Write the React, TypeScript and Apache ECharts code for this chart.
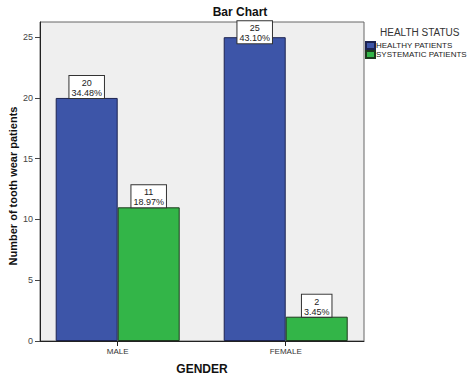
import React, { useEffect, useRef } from "react";
import * as echarts from "echarts";

const categories = ["MALE", "FEMALE"];
const healthyCounts = [20, 25];
const healthyPercents = ["34.48%", "43.10%"];
const systematicCounts = [11, 2];
const systematicPercents = ["18.97%", "3.45%"];
const seriesNames = ["HEALTHY PATIENTS", "SYSTEMATIC PATIENTS"];

export default function App() {
  const ref = useRef<HTMLDivElement>(null);
  useEffect(() => {
    if (!ref.current) return;
    const chart = echarts.init(ref.current, null, { renderer: "svg" });
    const font = "Liberation Sans, Arial, sans-serif";
    const yMax = 26.25;
    const labelStyle = (pcts: string[], counts: number[]) => ({
      show: true,
      position: "top" as const,
      distance: 0,
      formatter: (p: any) => `${counts[p.dataIndex]}\n${pcts[p.dataIndex]}`,
      backgroundColor: "#ffffff",
      borderColor: "#333333",
      borderWidth: 1,
      padding: [2, 2, 0, 2],
      fontSize: 9,
      lineHeight: 10,
      color: "#222",
      fontFamily: font,
      align: "center" as const,
    });
    // keep label boxes inside the plot area (as the original does for the tallest bar)
    const makeData = (counts: number[]) =>
      counts.map((v, i) => ({
        value: [i, v],
        label: v > yMax - 2 ? { offset: [0, 6] } : undefined,
      }));
    chart.setOption({
      animation: false,
      textStyle: { fontFamily: font },
      graphic: [
        {
          type: "text",
          x: 240,
          y: 12,
          style: {
            text: "Bar Chart",
            align: "center",
            verticalAlign: "middle",
            fontSize: 12,
            fontWeight: "bold",
            fill: "#111",
            fontFamily: font,
          },
        },
        {
          type: "text",
          x: 13,
          y: 186,
          rotation: Math.PI / 2,
          style: {
            text: "Number of tooth wear patients",
            align: "center",
            verticalAlign: "middle",
            fontSize: 11,
            fontWeight: "bold",
            fill: "#111",
            fontFamily: font,
          },
        },
        {
          type: "text",
          x: 380,
          y: 32,
          style: {
            text: "HEALTH STATUS",
            align: "left",
            verticalAlign: "middle",
            fontSize: 10,
            fill: "#333",
            fontFamily: font,
          },
        },
      ],
      legend: {
        orient: "vertical",
        left: 365,
        top: 41,
        padding: 0,
        itemWidth: 9,
        itemHeight: 7,
        itemGap: 0,
        icon: "rect",
        textStyle: { fontSize: 8, lineHeight: 9, color: "#222", padding: [0, 0, 0, -4], fontFamily: font },
        data: seriesNames,
      },
      grid: {
        left: 40,
        right: 110,
        top: 22,
        bottom: 40,
        outerBoundsMode: "none",
        containLabel: false,
        show: true,
        backgroundColor: "#efefef",
        borderColor: "#666",
        borderWidth: 1,
      },
      xAxis: {
        type: "value",
        min: -0.4625,
        max: 1.466,
        name: "GENDER",
        nameLocation: "middle",
        nameGap: 22,
        nameTextStyle: { fontSize: 12, fontWeight: "bold", color: "#111", fontFamily: font },
        axisLine: { show: true, lineStyle: { color: "#222", width: 1 } },
        axisTick: { show: true, customValues: [0, 1], length: 5, lineStyle: { color: "#222" } },
        axisLabel: {
          customValues: [0, 1],
          formatter: (v: number) => categories[Math.round(v)] ?? "",
          fontSize: 8,
          color: "#333",
          margin: 6,
          fontFamily: font,
        },
        splitLine: { show: false },
      },
      yAxis: {
        type: "value",
        min: 0,
        max: yMax,
        interval: 5,
        axisLine: { show: true, onZero: false, lineStyle: { color: "#222", width: 1 } },
        axisTick: { show: true, length: 5, lineStyle: { color: "#444" } },
        axisLabel: { fontSize: 9, color: "#444", margin: 7, fontFamily: font, showMaxLabel: false },
        splitLine: { show: false },
      },
      series: [
        {
          name: seriesNames[0],
          type: "bar",
          barWidth: 62,
          barGap: "0%",
          data: makeData(healthyCounts),
          itemStyle: { color: "#3d55a8", borderColor: "#1c2350", borderWidth: 1 },
          label: labelStyle(healthyPercents, healthyCounts),
        },
        {
          name: seriesNames[1],
          type: "bar",
          barWidth: 62,
          barGap: "0%",
          data: makeData(systematicCounts),
          itemStyle: { color: "#33b548", borderColor: "#1d3a1d", borderWidth: 1 },
          label: labelStyle(systematicPercents, systematicCounts),
        },
      ],
    });
    return () => chart.dispose();
  }, []);
  return (
    <div
      ref={ref}
      style={{ width: 474, height: 381, position: "fixed", left: 0, top: 0, background: "#fff" }}
    />
  );
}
